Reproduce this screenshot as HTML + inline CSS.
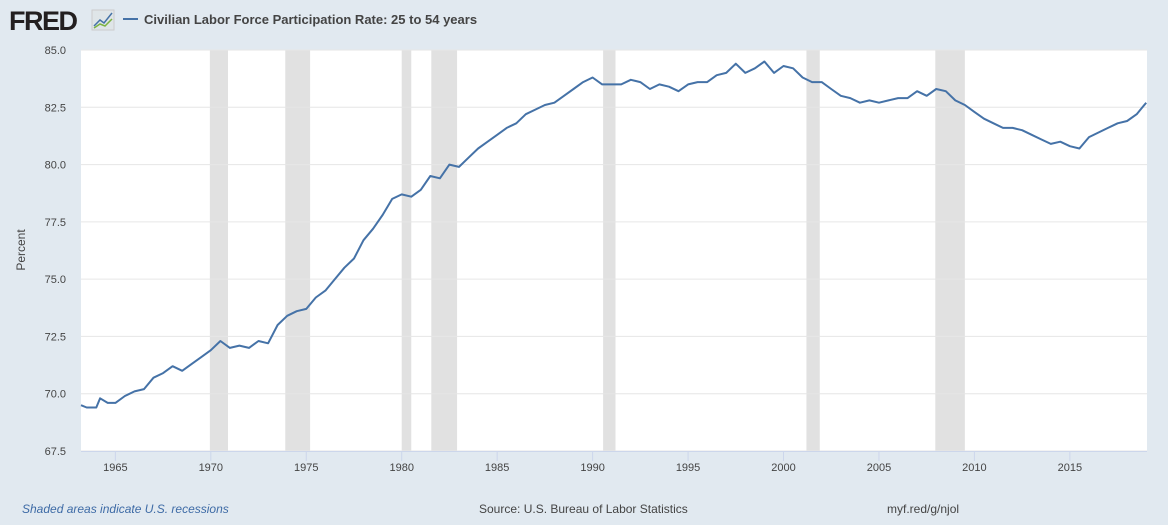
<!DOCTYPE html>
<html><head><meta charset="utf-8"><style>
body{margin:0;width:1168px;height:520px;background:#e1e9f0;font-family:"Liberation Sans",sans-serif;overflow:hidden}
svg text{font-family:"Liberation Sans",sans-serif}
</style></head><body>
<svg id="chart" width="1168" height="520" xmlns="http://www.w3.org/2000/svg">
<text x="9" y="30" font-size="27" font-weight="bold" fill="#231f20" letter-spacing="-1.5">FRED</text>
<g><rect x="92" y="10" width="22" height="20" fill="#dfe5e8" stroke="#ccc"/><polyline points="94,26 100,20 104,23 112,13" fill="none" stroke="#4572a7" stroke-width="1.5"/><polyline points="94,28 100,24 105,26 112,19" fill="none" stroke="#7cb342" stroke-width="1.5"/></g>
<line x1="123" y1="19" x2="138" y2="19" stroke="#4572a7" stroke-width="2"/>
<text x="144" y="24" font-size="13" font-weight="bold" fill="#444">Civilian Labor Force Participation Rate: 25 to 54 years</text>
<rect x="81" y="50" width="1066" height="401" fill="#fff"/>
<g id="rec"></g><g id="grid"></g><g id="yt"></g><g id="xt"></g>
<text transform="translate(25,250) rotate(-90)" font-size="12" fill="#444" text-anchor="middle">Percent</text>
<path id="line" fill="none" stroke="#4572a7" stroke-width="2" stroke-linejoin="round"/>
<text x="22" y="513" font-size="12" font-style="italic" fill="#3e6ba6">Shaded areas indicate U.S. recessions</text>
<text x="479" y="513" font-size="12" fill="#444">Source: U.S. Bureau of Labor Statistics</text>
<text x="887" y="513" font-size="12" fill="#444">myf.red/g/njol</text>
</svg>
<script>
const dates=[1963.2,1963.5,1964,1964.2,1964.6,1965,1965.5,1966,1966.5,1967,1967.5,1968,1968.5,1969,1969.5,1970,1970.5,1971,1971.5,1972,1972.5,1973,1973.5,1974,1974.5,1975,1975.5,1976,1976.5,1977,1977.5,1978,1978.5,1979,1979.5,1980,1980.5,1981,1981.5,1982,1982.5,1983,1983.5,1984,1984.5,1985,1985.5,1986,1986.5,1987,1987.5,1988,1988.5,1989,1989.5,1990,1990.5,1991,1991.5,1992,1992.5,1993,1993.5,1994,1994.5,1995,1995.5,1996,1996.5,1997,1997.5,1998,1998.5,1999,1999.5,2000,2000.5,2001,2001.5,2002,2002.5,2003,2003.5,2004,2004.5,2005,2005.5,2006,2006.5,2007,2007.5,2008,2008.5,2009,2009.5,2010,2010.5,2011,2011.5,2012,2012.5,2013,2013.5,2014,2014.5,2015,2015.5,2016,2016.5,2017,2017.5,2018,2018.5,2019];
const values=[69.5,69.4,69.4,69.8,69.6,69.6,69.9,70.1,70.2,70.7,70.9,71.2,71.0,71.3,71.6,71.9,72.3,72.0,72.1,72.0,72.3,72.2,73.0,73.4,73.6,73.7,74.2,74.5,75.0,75.5,75.9,76.7,77.2,77.8,78.5,78.7,78.6,78.9,79.5,79.4,80.0,79.9,80.3,80.7,81.0,81.3,81.6,81.8,82.2,82.4,82.6,82.7,83.0,83.3,83.6,83.8,83.5,83.5,83.5,83.7,83.6,83.3,83.5,83.4,83.2,83.5,83.6,83.6,83.9,84.0,84.4,84.0,84.2,84.5,84.0,84.3,84.2,83.8,83.6,83.6,83.3,83.0,82.9,82.7,82.8,82.7,82.8,82.9,82.9,83.2,83.0,83.3,83.2,82.8,82.6,82.3,82.0,81.8,81.6,81.6,81.5,81.3,81.1,80.9,81.0,80.8,80.7,81.2,81.4,81.6,81.8,81.9,82.2,82.7];
const yTicks=[67.5,70.0,72.5,75.0,77.5,80.0,82.5,85.0];
const xTicks=[1965,1970,1975,1980,1985,1990,1995,2000,2005,2010,2015];
const recStart=[1969.95,1973.9,1980.0,1981.55,1990.55,2001.2,2007.95];
const recEnd=[1970.9,1975.2,1980.5,1982.9,1991.2,2001.9,2009.5];
const NS="http://www.w3.org/2000/svg";
const X=d=>81+(d-1963.2)*19.09;
const Y=v=>50+(85-v)*(401/17.5);
function mk(t,a,p){const e=document.createElementNS(NS,t);for(const k in a)e.setAttribute(k,a[k]);document.getElementById(p).appendChild(e);return e;}
recStart.forEach((s,i)=>{const r=mk('rect',{x:X(s),y:50,width:X(recEnd[i])-X(s),height:401,fill:'#e1e1e1'},'rec');

});
yTicks.forEach(v=>{const l=mk('line',{x1:81,x2:1147,y1:Y(v),y2:Y(v),stroke:'#e6e6e6'},'grid');


const t=mk('text',{x:66,y:Y(v)+4,'font-size':11,fill:'#444','text-anchor':'end'},'yt');t.textContent=v.toFixed(1);

});
mk('line',{x1:81,x2:1147,y1:451.5,y2:451.5,stroke:'#ccd6eb'},'xt');
xTicks.forEach(d=>{const tk=mk('line',{x1:X(d),x2:X(d),y1:451,y2:461,stroke:'#ccd6eb'},'xt');


const t=mk('text',{x:X(d),y:471,'font-size':11,fill:'#444','text-anchor':'middle'},'xt');t.textContent=d;

});
document.getElementById('line').setAttribute('d',dates.map((d,i)=>(i?'L':'M')+X(d).toFixed(1)+','+Y(values[i]).toFixed(1)).join(''));
</script>
</body></html>
